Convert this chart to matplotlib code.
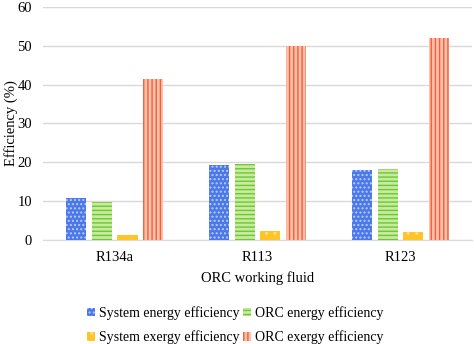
import matplotlib
matplotlib.use("Agg")
import matplotlib.pyplot as plt
import numpy as np

plt.rcParams['font.family'] = ['Liberation Serif', 'DejaVu Serif']
plt.rcParams['hatch.linewidth'] = 1.0

fluids = ['R134a', 'R113', 'R123']
series = ['System energy efficiency', 'ORC energy efficiency',
          'System exergy efficiency', 'ORC exergy efficiency']
sys_energy = [10.8, 19.4, 18.1]
orc_energy = [9.9, 19.6, 18.3]
sys_exergy = [1.2, 2.3, 2.1]
orc_exergy = [41.5, 50.0, 52.0]

values = [sys_energy, orc_energy, sys_exergy, orc_exergy]
faces = ['#4a78e8', '#c8eaa0', '#ffc428', '#ffc0a8']
hatch_cols = ['#b8cafa', '#6cc830', '#ffe080', '#f06040']
hatches = ['....', '----', '..', '||||']

fig = plt.figure(figsize=(4.74, 3.44), dpi=100)
ax = fig.add_axes([0.091, 0.302, 0.905, 0.678])

x = np.arange(len(fluids))
w = 0.14
step = 0.18
bars = []
for i, (vals, fc, hc, h) in enumerate(zip(values, faces, hatch_cols, hatches)):
    b = ax.bar(x + (i - 1.5) * step, vals, w, facecolor=fc, edgecolor=hc,
               hatch=h, linewidth=0, label=series[i], zorder=3)
    bars.append(b)

ax.set_xlim(-0.5, 2.5)
ax.set_ylim(0, 60)
ax.set_yticks(range(0, 61, 10))
ax.set_xticks(x)
ax.set_xticklabels(fluids)
ax.tick_params(length=0, labelsize=10.5, pad=8)
ax.tick_params(axis='y', pad=8)
ax.grid(axis='y', color='#d9d9d9', linewidth=1, zorder=0)
for s in ['top', 'right', 'left']:
    ax.spines[s].set_visible(False)
ax.spines['bottom'].set_color('#d9d9d9')

fig.text(11 / 474, 0.302 + 0.678 / 2, 'Efficiency (%)', rotation=90,
         ha='center', va='center', fontsize=10.5)
ax.set_xlabel('ORC working fluid', fontsize=10.5, labelpad=5)

# legend filled row by row
order = [0, 2, 1, 3]
ax.legend([bars[i] for i in order], [series[i] for i in order],
          loc='upper center', bbox_to_anchor=(0.448, -0.23), ncol=2,
          frameon=False, fontsize=10, handlelength=0.55, handleheight=0.55,
          handletextpad=0.3, columnspacing=0.3, labelspacing=0.75)

fig.savefig('out.png', dpi=100)
